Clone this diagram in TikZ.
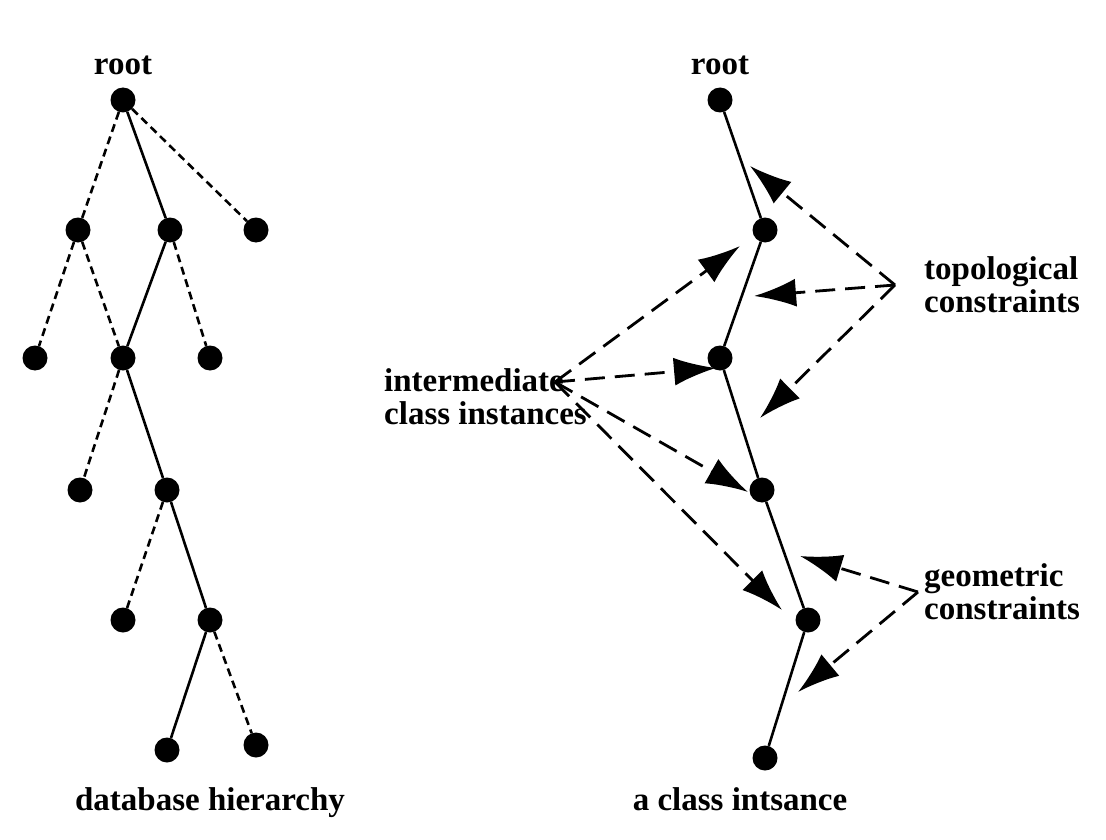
\documentclass[tikz,border=0pt]{standalone}
\usepackage{fontspec}
\setmainfont{Liberation Serif}
\usetikzlibrary{arrows.meta}
\begin{document}
\begin{tikzpicture}[x=1pt,y=-1pt,
  dot/.style={circle,fill=black,inner sep=0pt,minimum size=25pt},
  lbl/.style={font=\fontsize{33}{33}\selectfont\bfseries,align=left},
  sol/.style={line width=2.6pt},
  dsh/.style={line width=2.6pt,dash pattern=on 8pt off 5pt},
  arr/.style={line width=2.8pt,dash pattern=on 20pt off 10pt,-{Latex[length=42pt,width=28pt]}}]
\useasboundingbox (0,0) rectangle (1106,840);
% left tree
\node[dot] (r) at (123,100) {};
\node[lbl,anchor=base] (rl) at (123,75) {root};
\node[dot] (a) at (78,230) {};
\node[dot] (b) at (170,230) {};
\node[dot] (c) at (256,230) {};
\node[dot] (d) at (35,358) {};
\node[dot] (e) at (123,358) {};
\node[dot] (f) at (210,358) {};
\node[dot] (g) at (80,490) {};
\node[dot] (h) at (167,490) {};
\node[dot] (i) at (123,620) {};
\node[dot] (j) at (210,620) {};
\node[dot] (k) at (167,750) {};
\node[dot] (l) at (256,745) {};
\draw[sol] (r)--(b) (b)--(e) (e)--(h) (h)--(j) (j)--(k);
\draw[dsh] (r)--(a) (r)--(c) (a)--(d) (a)--(e) (b)--(f) (e)--(g) (h)--(i) (j)--(l);
\node[lbl,anchor=base] (dh) at (210,810) {database hierarchy};
% right chain
\node[lbl,anchor=base] (rl2) at (720,75) {root};
\node[dot] (R1) at (720,100) {};
\node[dot] (R2) at (765,230) {};
\node[dot] (R3) at (720,358) {};
\node[dot] (R4) at (762,490) {};
\node[dot] (R5) at (808,620) {};
\node[dot] (R6) at (765,758) {};
\draw[sol] (R1)--(R2)--(R3)--(R4)--(R5)--(R6);
\node[lbl,anchor=base] (ci) at (740,810) {a class intsance};
% labels
\node[lbl,anchor=east,inner sep=0pt] (ic) at (587,397) {intermediate\\class instances};
\coordinate (ia) at (555,382);
\node[lbl,anchor=west,inner sep=0pt] (tc) at (924,285) {topological\\constraints};
\coordinate (ta) at (895,285);
\node[lbl,anchor=west,inner sep=0pt] (gc) at (924,592) {geometric\\constraints};
\coordinate (ga) at (918,592);
\coordinate (i1) at (740,246);
\coordinate (i2) at (716,368);
\coordinate (i3) at (748,492);
\coordinate (i4) at (782,610);
\coordinate (t1) at (750,166);
\coordinate (t2) at (754,296);
\coordinate (t3) at (760,418);
\coordinate (g1) at (800,556);
\coordinate (g2) at (798,692);
\draw[arr] (ia)--(i1);
\draw[arr] (ia)--(i2);
\draw[arr] (ia)--(i3);
\draw[arr] (ia)--(i4);
\draw[arr] (ta)--(t1);
\draw[arr] (ta)--(t2);
\draw[arr] (ta)--(t3);
\draw[arr] (ga)--(g1);
\draw[arr] (ga)--(g2);
\end{tikzpicture}
\end{document}
